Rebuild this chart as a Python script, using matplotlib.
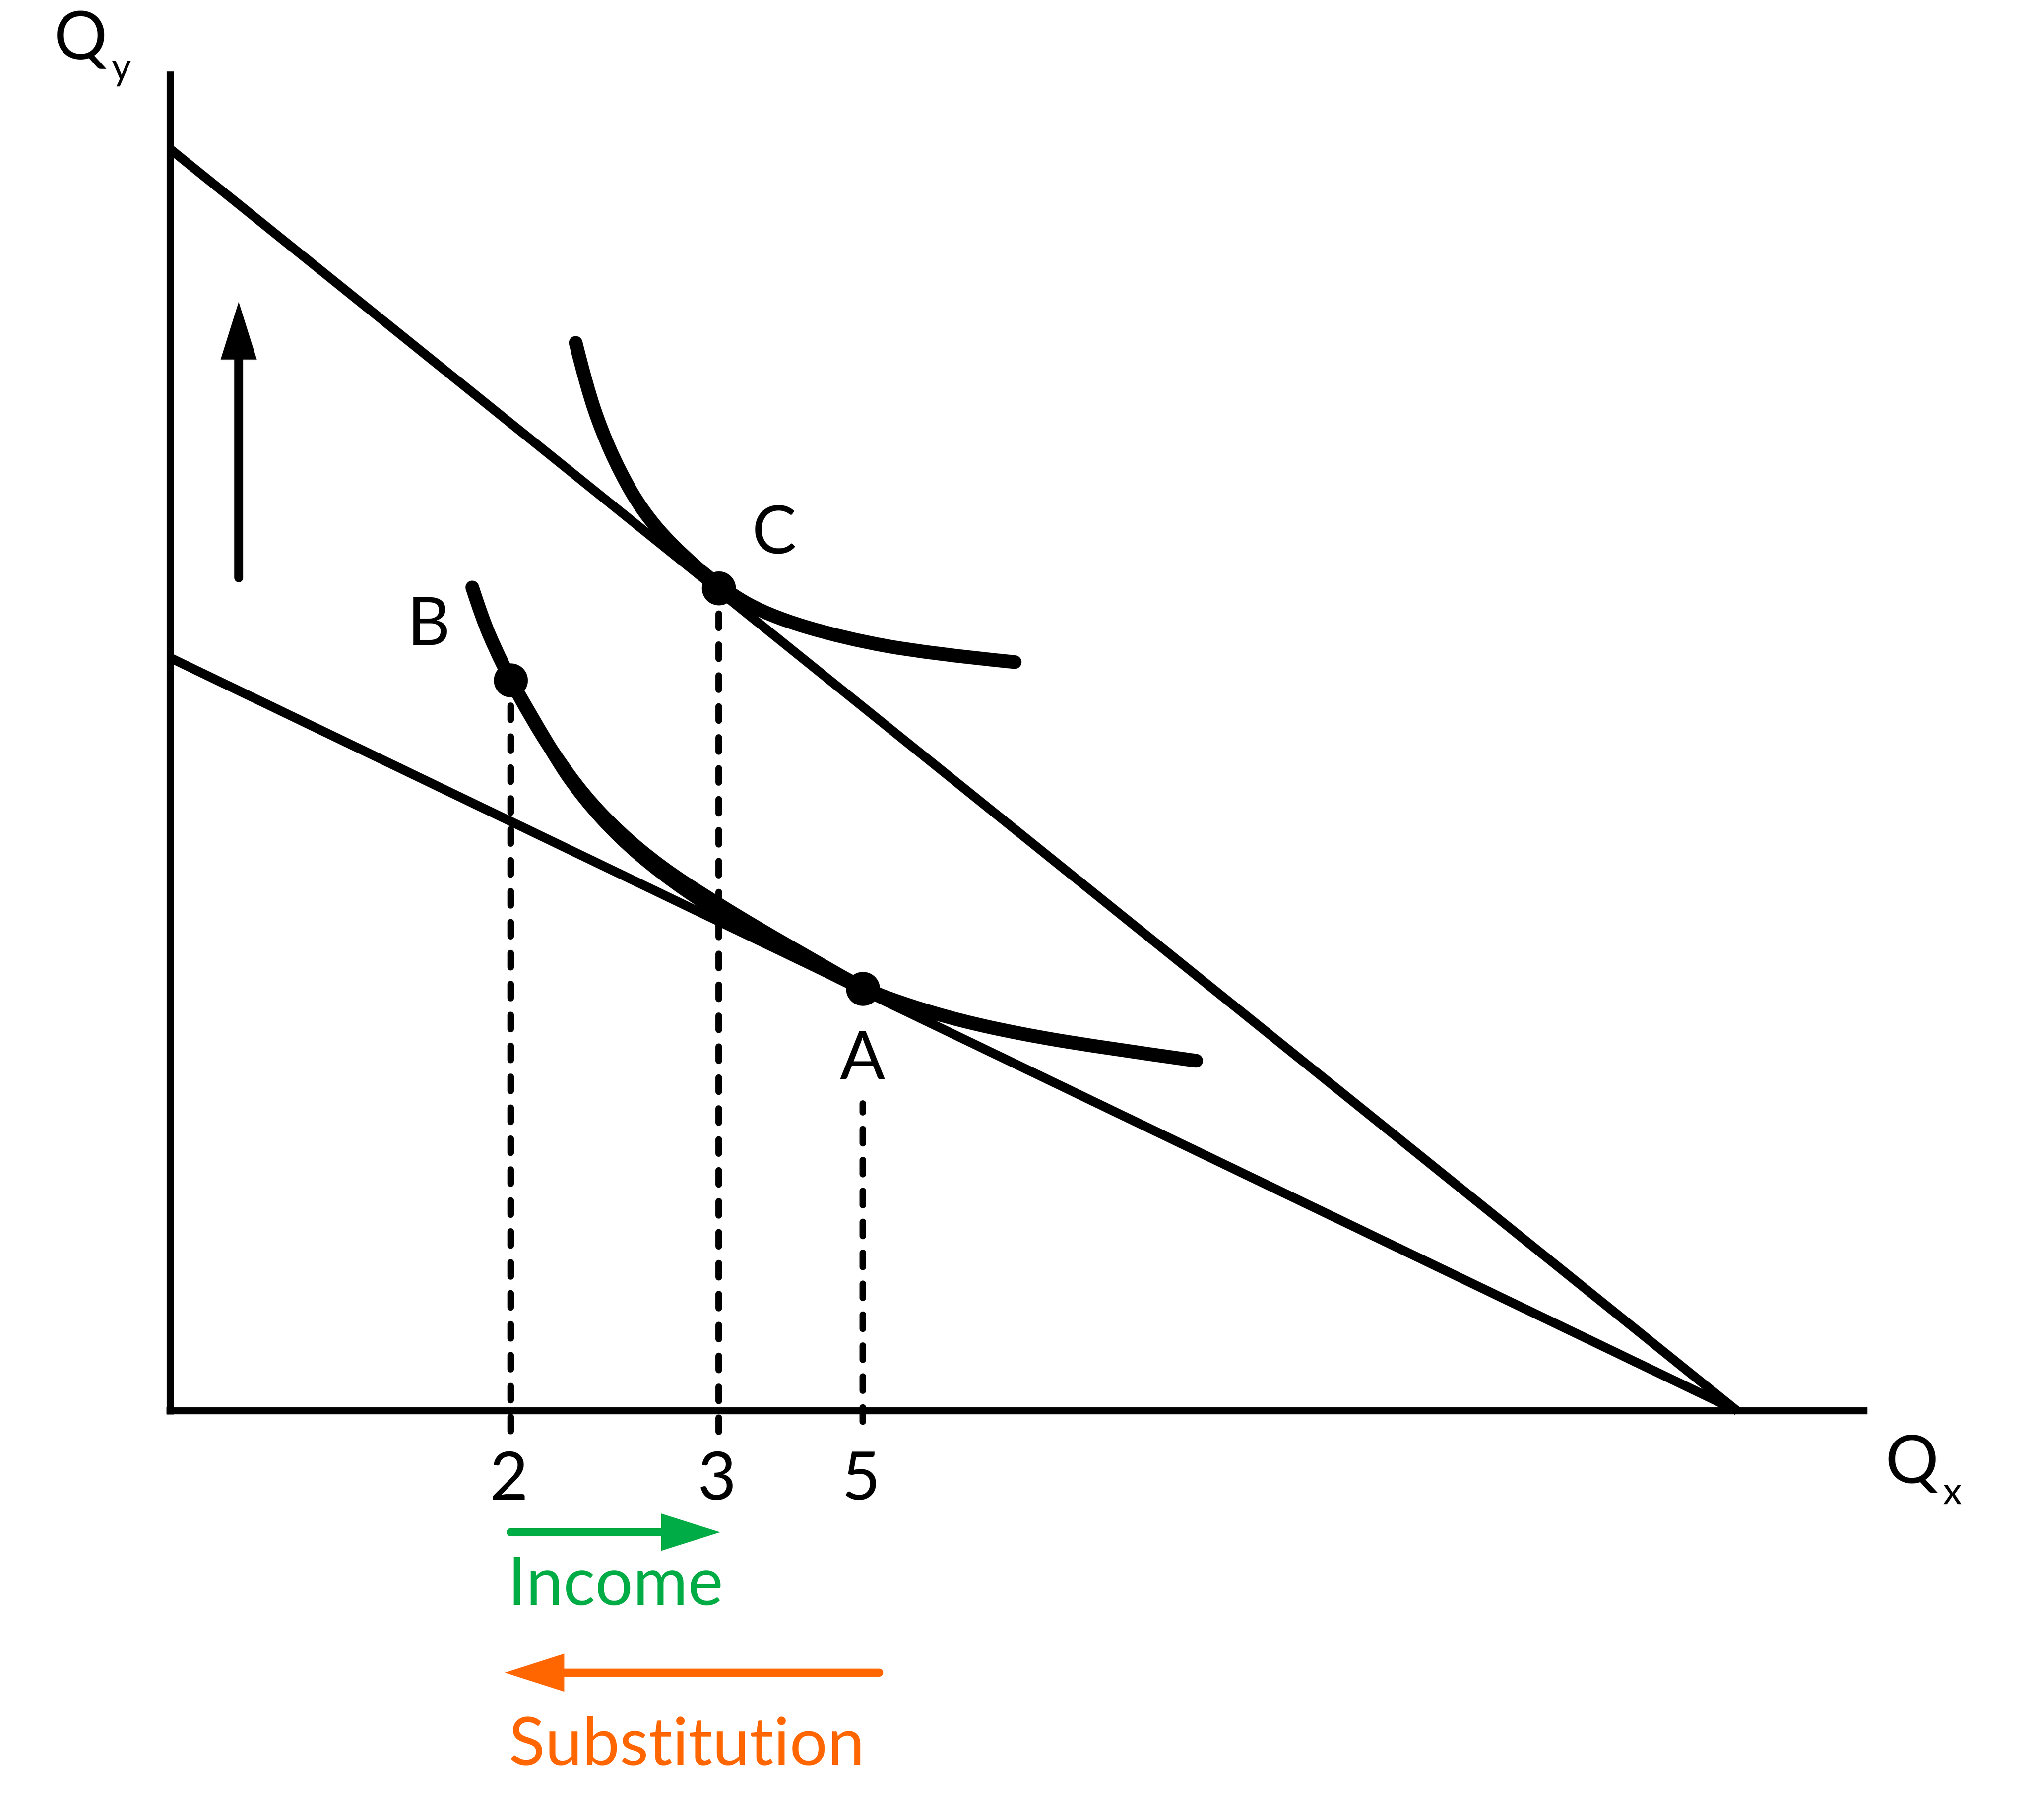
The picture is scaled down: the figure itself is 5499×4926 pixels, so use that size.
import math
import matplotlib
matplotlib.use("Agg")
import matplotlib.pyplot as plt
from matplotlib.path import Path
from matplotlib.patches import PathPatch

plt.rcParams["font.family"] = ["Lato", "DejaVu Sans"]

# ---------------- data (schematic units) ----------------
axis_x_max = 45.93
axis_y_max = 36.25

budget_x_intercept = 42.4
budget_new_y_intercept = 34.15
budget_old_y_intercept = 20.38

point_labels = ["A", "B", "C"]
point_x = [18.75, 9.22, 14.85]
point_y = [11.42, 19.77, 22.26]

upper_ic_x = [10.98, 11.28, 11.68, 12.18, 12.78, 13.58, 14.85, 16.15, 18.25, 20.55, 22.86]
upper_ic_y = [28.90, 27.70, 26.52, 25.40, 24.36, 23.42, 22.30, 21.53, 20.90, 20.49, 20.26]

lower_ic_x = [8.18, 8.45, 8.80, 9.22, 9.75, 10.40, 11.20, 12.15, 13.30, 14.60, 16.00,
              17.40, 18.75, 20.00, 21.40, 23.00, 25.00, 27.77]
lower_ic_y = [22.28, 21.45, 20.62, 19.77, 18.80, 17.75, 16.65, 15.65, 14.70, 13.85, 13.00,
              12.20, 11.42, 10.96, 10.55, 10.20, 9.86, 9.47]

lower_ic_alt_x = [9.22, 10.40, 11.20, 12.15, 13.30, 14.60, 16.00, 17.40, 18.75]
lower_ic_alt_y = [19.77, 17.70, 16.57, 15.52, 14.54, 13.64, 12.84, 12.08, 11.42]

tick_labels = ["2", "3", "5"]
tick_x = [9.22, 14.85, 18.75]
drop_top = [19.77, 22.26, 8.31]
drop_bottom = -0.57

up_arrow_x = 1.86
up_arrow_y = [22.54, 30.01]

income_arrow_x = [9.22, 14.89]
income_arrow_y = -3.29
subst_arrow_x = [19.19, 9.06]
subst_arrow_y = -7.09

GREEN = "#00AC45"
ORANGE = "#FF6600"

# ---------------- figure ----------------
fig = plt.figure(figsize=(54.99, 49.26), dpi=100)
ax = fig.add_axes([0, 0, 1, 1])
ax.set_xlim(-4.60, 50.39)
ax.set_ylim(-11.08, 38.18)
ax.axis("off")

PX = 0.72  # points per pixel at dpi 100

# axes
ax.plot([0, 0], [-0.10, axis_y_max], color="black", lw=19 * PX, solid_capstyle="butt")
ax.plot([-0.10, axis_x_max], [0, 0], color="black", lw=19 * PX, solid_capstyle="butt")

# budget lines
ax.plot([0, budget_x_intercept], [budget_new_y_intercept, 0], color="black",
        lw=25 * PX, solid_capstyle="butt")
ax.plot([0, budget_x_intercept], [budget_old_y_intercept, 0], color="black",
        lw=25 * PX, solid_capstyle="butt")


def smooth_path(xs, ys):
    pts = list(zip(xs, ys))
    verts = [pts[0]]
    codes = [Path.MOVETO]
    n = len(pts)
    for i in range(1, n - 1):
        p, q = pts[i], pts[i + 1]
        end = q if i == n - 2 else ((p[0] + q[0]) / 2, (p[1] + q[1]) / 2)
        verts += [p, end]
        codes += [Path.CURVE3, Path.CURVE3]
    return Path(verts, codes)


for xs, ys in [(upper_ic_x, upper_ic_y), (lower_ic_x, lower_ic_y),
               (lower_ic_alt_x, lower_ic_alt_y)]:
    ax.add_patch(PathPatch(smooth_path(xs, ys), fill=False, edgecolor="black",
                           lw=37 * PX, capstyle="round", joinstyle="round", zorder=3))

# dashed drop lines
for x, top in zip(tick_x, drop_top):
    ax.plot([x, x], [top, drop_bottom], color="black", lw=18 * PX,
            linestyle=(0.8, (2.1, 2.55)), dash_capstyle="round", zorder=2)

# points
ax.plot(point_x, point_y, "o", color="black", ms=92 * PX, mew=0, zorder=5)

# labels
FS = 130
label_pos = {"A": (18.74, 8.98), "B": (7.0, 20.72), "C": (16.35, 23.20)}
for lab in point_labels:
    lx, ly = label_pos[lab]
    ax.text(lx, ly, lab, fontsize=FS, ha="center", va="baseline", color="black")

for lab, x in zip(tick_labels, tick_x):
    ax.text(x - 0.05, -2.41, lab, fontsize=FS, ha="center", va="baseline", color="black")

ax.text(-2.42, 36.58, "Q", fontsize=FS, ha="center", va="baseline")
ax.text(-1.58, 36.02, "y", fontsize=74, ha="left", va="baseline")
ax.text(47.14, -1.96, "Q", fontsize=FS, ha="center", va="baseline")
ax.text(47.98, -2.53, "x", fontsize=74, ha="left", va="baseline")


def draw_arrow(x0, y0, x1, y1, color, shaft_px, head_len, head_w):
    dx, dy = x1 - x0, y1 - y0
    L = math.hypot(dx, dy)
    ux, uy = dx / L, dy / L
    bx, by = x1 - ux * head_len, y1 - uy * head_len
    ax.plot([x0, bx + ux * 0.05], [y0, by + uy * 0.05], color=color,
            lw=shaft_px * PX, solid_capstyle="round", zorder=4)
    px_, py_ = -uy, ux
    tri = [(x1, y1), (bx + px_ * head_w / 2, by + py_ * head_w / 2),
           (bx - px_ * head_w / 2, by - py_ * head_w / 2)]
    ax.fill([t[0] for t in tri], [t[1] for t in tri], color=color, lw=0, zorder=4)


draw_arrow(up_arrow_x, up_arrow_y[0], up_arrow_x, up_arrow_y[1], "black", 24, 1.56, 0.98)
draw_arrow(income_arrow_x[0], income_arrow_y, income_arrow_x[1], income_arrow_y,
           GREEN, 22, 1.60, 1.01)
draw_arrow(subst_arrow_x[0], subst_arrow_y, subst_arrow_x[1], subst_arrow_y,
           ORANGE, 22, 1.61, 1.03)

ax.text(9.13, -5.26, "Income", fontsize=FS, ha="left", va="baseline", color=GREEN)
ax.text(9.17, -9.60, "Substitution", fontsize=FS, ha="left", va="baseline", color=ORANGE)

fig.savefig("out.png", dpi=100)
